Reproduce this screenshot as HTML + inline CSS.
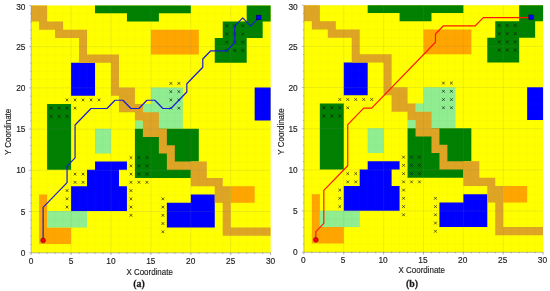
<!DOCTYPE html><html><head><meta charset="utf-8"><title>Path planning comparison</title>
<style>html,body{margin:0;padding:0;background:#fff}body{width:550px;height:291px;overflow:hidden}svg{display:block}.t{font-family:"Liberation Sans",sans-serif;font-size:9.0px;fill:#222;stroke:#222;stroke-width:0.15px}.c{font-family:"Liberation Serif",serif;font-weight:bold;font-size:10.4px;fill:#1a1a1a;stroke:#1a1a1a;stroke-width:0.25px}</style></head><body>
<svg width="550" height="291" viewBox="0 0 550 291">
<rect width="550" height="291" fill="#fff"/>
<g>
<rect x="31.15" y="5.45" width="239.5" height="247.3" fill="#ffff00"/>
<path d="M150.9 87.43H182.83V128.65H150.9ZM142.92 103.92H150.9V112.16H142.92ZM134.93 120.41H142.92V128.65H134.93ZM95.02 128.65H110.98V153.38H95.02Z" fill="#90ee90"/>
<path d="M150.9 29.73H198.8V54.46H150.9ZM39.13 194.6H47.12V244.06H39.13ZM39.13 227.57H71.07V244.06H39.13ZM230.73 186.35H254.68V202.84H230.73Z" fill="#ffa500"/>
<path d="M47.12 211.08H87.03V227.57H47.12Z" fill="#90ee90"/>
<path d="M95.02 5.45H190.82V13.24H95.02ZM126.95 13.24H158.88V21.49H126.95ZM246.7 5.45H270.65V21.49H246.7ZM246.7 21.49H262.67V37.97H246.7ZM222.75 21.49H246.7V62.7H222.75ZM214.77 37.97H222.75V62.7H214.77ZM47.12 103.92H71.07V169.87H47.12ZM134.93 128.65H198.8V161.62H134.93ZM134.93 161.62H190.82V178.11H134.93Z" fill="#008000"/>
<path d="M71.07 62.7H95.02V95.68H71.07ZM254.68 87.43H270.65V120.41H254.68ZM95.02 161.62H126.95V169.87H95.02ZM87.03 169.87H118.97V186.35H87.03ZM71.07 186.35H126.95V211.08H71.07ZM190.82 194.6H214.77V227.57H190.82ZM166.87 202.84H190.82V227.57H166.87Z" fill="#0000ff"/>
<path d="M31.15 5.45H47.12V13.24H31.15ZM31.15 13.24H47.12V21.49H31.15ZM39.13 21.49H63.08V29.73H39.13ZM55.1 29.73H87.03V37.97H55.1ZM79.05 37.97H87.03V46.22H79.05ZM79.05 46.22H87.03V54.46H79.05ZM79.05 54.46H118.97V62.7H79.05ZM110.98 62.7H118.97V70.95H110.98ZM110.98 70.95H118.97V79.19H110.98ZM110.98 79.19H118.97V87.43H110.98ZM110.98 87.43H134.93V95.68H110.98ZM118.97 95.68H134.93V103.92H118.97ZM118.97 103.92H142.92V112.16H118.97ZM134.93 112.16H158.88V120.41H134.93ZM142.92 120.41H158.88V128.65H142.92ZM142.92 128.65H166.87V136.89H142.92ZM158.88 136.89H166.87V145.14H158.88ZM158.88 145.14H174.85V153.38H158.88ZM166.87 153.38H174.85V161.62H166.87ZM166.87 161.62H206.78V169.87H166.87ZM190.82 169.87H206.78V178.11H190.82ZM190.82 178.11H222.75V186.35H190.82ZM214.77 186.35H230.73V194.6H214.77ZM214.77 194.6H230.73V202.84H214.77ZM222.75 202.84H230.73V211.08H222.75ZM222.75 211.08H230.73V219.33H222.75ZM222.75 219.33H230.73V227.57H222.75ZM222.75 227.57H270.65V235.81H222.75Z" fill="#dea524"/>
<path d="M39.13 5.45V252.75M31.15 244.51H270.65" stroke="rgba(130,130,130,0.06)" stroke-width="0.6" fill="none"/>
<path d="M47.12 5.45V252.75M31.15 236.26H270.65" stroke="rgba(130,130,130,0.06)" stroke-width="0.6" fill="none"/>
<path d="M55.1 5.45V252.75M31.15 228.02H270.65" stroke="rgba(130,130,130,0.06)" stroke-width="0.6" fill="none"/>
<path d="M63.08 5.45V252.75M31.15 219.78H270.65" stroke="rgba(130,130,130,0.06)" stroke-width="0.6" fill="none"/>
<path d="M71.07 5.45V252.75M31.15 211.53H270.65" stroke="rgba(130,130,130,0.26)" stroke-width="0.6" fill="none"/>
<path d="M79.05 5.45V252.75M31.15 203.29H270.65" stroke="rgba(130,130,130,0.06)" stroke-width="0.6" fill="none"/>
<path d="M87.03 5.45V252.75M31.15 195.05H270.65" stroke="rgba(130,130,130,0.06)" stroke-width="0.6" fill="none"/>
<path d="M95.02 5.45V252.75M31.15 186.8H270.65" stroke="rgba(130,130,130,0.06)" stroke-width="0.6" fill="none"/>
<path d="M103 5.45V252.75M31.15 178.56H270.65" stroke="rgba(130,130,130,0.06)" stroke-width="0.6" fill="none"/>
<path d="M110.98 5.45V252.75M31.15 170.32H270.65" stroke="rgba(130,130,130,0.26)" stroke-width="0.6" fill="none"/>
<path d="M118.97 5.45V252.75M31.15 162.07H270.65" stroke="rgba(130,130,130,0.06)" stroke-width="0.6" fill="none"/>
<path d="M126.95 5.45V252.75M31.15 153.83H270.65" stroke="rgba(130,130,130,0.06)" stroke-width="0.6" fill="none"/>
<path d="M134.93 5.45V252.75M31.15 145.59H270.65" stroke="rgba(130,130,130,0.06)" stroke-width="0.6" fill="none"/>
<path d="M142.92 5.45V252.75M31.15 137.34H270.65" stroke="rgba(130,130,130,0.06)" stroke-width="0.6" fill="none"/>
<path d="M150.9 5.45V252.75M31.15 129.1H270.65" stroke="rgba(130,130,130,0.26)" stroke-width="0.6" fill="none"/>
<path d="M158.88 5.45V252.75M31.15 120.86H270.65" stroke="rgba(130,130,130,0.06)" stroke-width="0.6" fill="none"/>
<path d="M166.87 5.45V252.75M31.15 112.61H270.65" stroke="rgba(130,130,130,0.06)" stroke-width="0.6" fill="none"/>
<path d="M174.85 5.45V252.75M31.15 104.37H270.65" stroke="rgba(130,130,130,0.06)" stroke-width="0.6" fill="none"/>
<path d="M182.83 5.45V252.75M31.15 96.13H270.65" stroke="rgba(130,130,130,0.06)" stroke-width="0.6" fill="none"/>
<path d="M190.82 5.45V252.75M31.15 87.88H270.65" stroke="rgba(130,130,130,0.26)" stroke-width="0.6" fill="none"/>
<path d="M198.8 5.45V252.75M31.15 79.64H270.65" stroke="rgba(130,130,130,0.06)" stroke-width="0.6" fill="none"/>
<path d="M206.78 5.45V252.75M31.15 71.4H270.65" stroke="rgba(130,130,130,0.06)" stroke-width="0.6" fill="none"/>
<path d="M214.77 5.45V252.75M31.15 63.15H270.65" stroke="rgba(130,130,130,0.06)" stroke-width="0.6" fill="none"/>
<path d="M222.75 5.45V252.75M31.15 54.91H270.65" stroke="rgba(130,130,130,0.06)" stroke-width="0.6" fill="none"/>
<path d="M230.73 5.45V252.75M31.15 46.67H270.65" stroke="rgba(130,130,130,0.26)" stroke-width="0.6" fill="none"/>
<path d="M238.72 5.45V252.75M31.15 38.42H270.65" stroke="rgba(130,130,130,0.06)" stroke-width="0.6" fill="none"/>
<path d="M246.7 5.45V252.75M31.15 30.18H270.65" stroke="rgba(130,130,130,0.06)" stroke-width="0.6" fill="none"/>
<path d="M254.68 5.45V252.75M31.15 21.94H270.65" stroke="rgba(130,130,130,0.06)" stroke-width="0.6" fill="none"/>
<path d="M262.67 5.45V252.75M31.15 13.69H270.65" stroke="rgba(130,130,130,0.06)" stroke-width="0.6" fill="none"/>
<path d="M28.95 252.75h2.2M30.05 244.51h1.1M30.05 236.26h1.1M30.05 228.02h1.1M30.05 219.78h1.1M28.95 211.53h2.2M30.05 203.29h1.1M30.05 195.05h1.1M30.05 186.8h1.1M30.05 178.56h1.1M28.95 170.32h2.2M30.05 162.07h1.1M30.05 153.83h1.1M30.05 145.59h1.1M30.05 137.34h1.1M28.95 129.1h2.2M30.05 120.86h1.1M30.05 112.61h1.1M30.05 104.37h1.1M30.05 96.13h1.1M28.95 87.88h2.2M30.05 79.64h1.1M30.05 71.4h1.1M30.05 63.15h1.1M30.05 54.91h1.1M28.95 46.67h2.2M30.05 38.42h1.1M30.05 30.18h1.1M30.05 21.94h1.1M30.05 13.69h1.1M28.95 5.45h2.2" stroke="#9aa0ba" stroke-width="0.6" fill="none"/>
<path d="M31.15 252.75v2.2M39.13 252.75v1.1M47.12 252.75v1.1M55.1 252.75v1.1M63.08 252.75v1.1M71.07 252.75v2.2M79.05 252.75v1.1M87.03 252.75v1.1M95.02 252.75v1.1M103 252.75v1.1M110.98 252.75v2.2M118.97 252.75v1.1M126.95 252.75v1.1M134.93 252.75v1.1M142.92 252.75v1.1M150.9 252.75v2.2M158.88 252.75v1.1M166.87 252.75v1.1M174.85 252.75v1.1M182.83 252.75v1.1M190.82 252.75v2.2M198.8 252.75v1.1M206.78 252.75v1.1M214.77 252.75v1.1M222.75 252.75v1.1M230.73 252.75v2.2M238.72 252.75v1.1M246.7 252.75v1.1M254.68 252.75v1.1M262.67 252.75v1.1M270.65 252.75v2.2" stroke="#6e6e78" stroke-width="0.6" fill="none"/>
<path d="M31.15 5.45V252.85H270.65" stroke="#77776a" stroke-width="0.5" fill="none"/>
<path d="M225.36 49.06l2.76 2.76M225.36 51.82l2.76 -2.76M225.36 40.81l2.76 2.76M225.36 43.57l2.76 -2.76M225.36 32.57l2.76 2.76M225.36 35.33l2.76 -2.76M225.36 24.33l2.76 2.76M225.36 27.09l2.76 -2.76M233.34 49.06l2.76 2.76M233.34 51.82l2.76 -2.76M233.34 40.81l2.76 2.76M233.34 43.57l2.76 -2.76M233.34 32.57l2.76 2.76M233.34 35.33l2.76 -2.76M233.34 24.33l2.76 2.76M233.34 27.09l2.76 -2.76M241.33 49.06l2.76 2.76M241.33 51.82l2.76 -2.76M241.33 40.81l2.76 2.76M241.33 43.57l2.76 -2.76M241.33 32.57l2.76 2.76M241.33 35.33l2.76 -2.76M241.33 24.33l2.76 2.76M241.33 27.09l2.76 -2.76M65.69 98.52l2.76 2.76M65.69 101.28l2.76 -2.76M73.68 98.52l2.76 2.76M73.68 101.28l2.76 -2.76M81.66 98.52l2.76 2.76M81.66 101.28l2.76 -2.76M89.64 98.52l2.76 2.76M89.64 101.28l2.76 -2.76M97.63 98.52l2.76 2.76M97.63 101.28l2.76 -2.76M49.73 106.76l2.76 2.76M49.73 109.52l2.76 -2.76M57.71 106.76l2.76 2.76M57.71 109.52l2.76 -2.76M65.69 106.76l2.76 2.76M65.69 109.52l2.76 -2.76M73.68 106.76l2.76 2.76M73.68 109.52l2.76 -2.76M49.73 115l2.76 2.76M49.73 117.76l2.76 -2.76M57.71 115l2.76 2.76M57.71 117.76l2.76 -2.76M65.69 115l2.76 2.76M65.69 117.76l2.76 -2.76M169.48 106.76l2.76 2.76M169.48 109.52l2.76 -2.76M169.48 98.52l2.76 2.76M169.48 101.28l2.76 -2.76M169.48 90.28l2.76 2.76M169.48 93.03l2.76 -2.76M169.48 82.03l2.76 2.76M169.48 84.79l2.76 -2.76M177.46 106.76l2.76 2.76M177.46 109.52l2.76 -2.76M177.46 98.52l2.76 2.76M177.46 101.28l2.76 -2.76M177.46 90.28l2.76 2.76M177.46 93.03l2.76 -2.76M177.46 82.03l2.76 2.76M177.46 84.79l2.76 -2.76M129.56 213.93l2.76 2.76M129.56 216.69l2.76 -2.76M129.56 205.68l2.76 2.76M129.56 208.44l2.76 -2.76M129.56 197.44l2.76 2.76M129.56 200.2l2.76 -2.76M129.56 189.2l2.76 2.76M129.56 191.96l2.76 -2.76M129.56 180.95l2.76 2.76M129.56 183.71l2.76 -2.76M129.56 172.71l2.76 2.76M129.56 175.47l2.76 -2.76M129.56 164.47l2.76 2.76M129.56 167.22l2.76 -2.76M129.56 156.22l2.76 2.76M129.56 158.98l2.76 -2.76M137.54 180.95l2.76 2.76M137.54 183.71l2.76 -2.76M137.54 172.71l2.76 2.76M137.54 175.47l2.76 -2.76M137.54 164.47l2.76 2.76M137.54 167.22l2.76 -2.76M137.54 156.22l2.76 2.76M137.54 158.98l2.76 -2.76M145.53 180.95l2.76 2.76M145.53 183.71l2.76 -2.76M145.53 172.71l2.76 2.76M145.53 175.47l2.76 -2.76M145.53 164.47l2.76 2.76M145.53 167.22l2.76 -2.76M145.53 156.22l2.76 2.76M145.53 158.98l2.76 -2.76M73.68 180.95l2.76 2.76M73.68 183.71l2.76 -2.76M73.68 172.71l2.76 2.76M73.68 175.47l2.76 -2.76M81.66 180.95l2.76 2.76M81.66 183.71l2.76 -2.76M81.66 172.71l2.76 2.76M81.66 175.47l2.76 -2.76M65.69 205.68l2.76 2.76M65.69 208.44l2.76 -2.76M65.69 197.44l2.76 2.76M65.69 200.2l2.76 -2.76M65.69 189.2l2.76 2.76M65.69 191.96l2.76 -2.76M161.5 230.41l2.76 2.76M161.5 233.17l2.76 -2.76M161.5 222.17l2.76 2.76M161.5 224.93l2.76 -2.76M161.5 213.93l2.76 2.76M161.5 216.69l2.76 -2.76M161.5 205.68l2.76 2.76M161.5 208.44l2.76 -2.76M161.5 197.44l2.76 2.76M161.5 200.2l2.76 -2.76" stroke="#111" stroke-width="0.66" fill="none"/>
<polyline points="43.12,240.38 43.12,207.41 67.07,182.68 67.07,166.19 75.06,157.95 75.06,124.98 91.02,108.49 106.99,108.49 114.97,100.25 122.96,100.25 130.94,108.49 138.92,108.49 146.91,100.25 154.89,100.25 162.88,108.49 170.86,108.49 186.82,92 186.82,83.76 202.79,67.27 202.79,59.03 210.77,50.79 226.74,50.79 234.72,42.54 234.72,26.06 242.71,17.81 250.69,26.06 258.67,17.81" fill="none" stroke="#1c1cd0" stroke-width="1.2" stroke-linejoin="round"/>
<circle cx="43.12" cy="240.38" r="2.4" fill="#ff0000" stroke="#5a1010" stroke-width="0.6"/>
<rect x="256.37" y="15.21" width="4.6" height="4.6" fill="#0000ff" stroke="#00004a" stroke-width="0.5"/>
<text class="t" transform="translate(25.45 255.6) scale(0.93 1)" text-anchor="end">0</text>
<text class="t" transform="translate(31.05 263.95) scale(0.93 1)" text-anchor="middle">0</text>
<text class="t" transform="translate(25.45 214.68) scale(0.93 1)" text-anchor="end">5</text>
<text class="t" transform="translate(70.97 263.95) scale(0.93 1)" text-anchor="middle">5</text>
<text class="t" transform="translate(25.45 173.47) scale(0.93 1)" text-anchor="end">10</text>
<text class="t" transform="translate(110.88 263.95) scale(0.93 1)" text-anchor="middle">10</text>
<text class="t" transform="translate(25.45 132.25) scale(0.93 1)" text-anchor="end">15</text>
<text class="t" transform="translate(150.8 263.95) scale(0.93 1)" text-anchor="middle">15</text>
<text class="t" transform="translate(25.45 91.03) scale(0.93 1)" text-anchor="end">20</text>
<text class="t" transform="translate(190.72 263.95) scale(0.93 1)" text-anchor="middle">20</text>
<text class="t" transform="translate(25.45 49.82) scale(0.93 1)" text-anchor="end">25</text>
<text class="t" transform="translate(230.63 263.95) scale(0.93 1)" text-anchor="middle">25</text>
<text class="t" transform="translate(25.45 10.3) scale(0.93 1)" text-anchor="end">30</text>
<text class="t" transform="translate(270.55 263.95) scale(0.93 1)" text-anchor="middle">30</text>
<text class="t" transform="translate(149.6 274.55) scale(0.885 1)" text-anchor="middle">X Coordinate</text>
<text class="t" transform="translate(11.25 131.9) rotate(-90) scale(0.885 1)" text-anchor="middle">Y Coordinate</text>
<text class="c" transform="translate(139 287) scale(0.95 1)" text-anchor="middle">(a)</text>
</g>
<g>
<rect x="303.9" y="5.2" width="239.2" height="247" fill="#ffff00"/>
<path d="M423.5 87.13H455.39V128.3H423.5ZM415.53 103.6H423.5V111.83H415.53ZM407.55 120.07H415.53V128.3H407.55ZM367.69 128.3H383.63V153H367.69Z" fill="#90ee90"/>
<path d="M423.5 29.5H471.34V54.2H423.5ZM311.87 194.17H319.85V243.57H311.87ZM311.87 227.1H343.77V243.57H311.87ZM503.23 185.93H527.15V202.4H503.23Z" fill="#ffa500"/>
<path d="M319.85 210.63H359.71V227.1H319.85Z" fill="#90ee90"/>
<path d="M367.69 5.2H463.37V13.03H367.69ZM399.58 13.03H431.47V21.27H399.58ZM519.18 5.2H543.1V21.27H519.18ZM519.18 21.27H535.13V37.73H519.18ZM495.26 21.27H519.18V62.43H495.26ZM487.29 37.73H495.26V62.43H487.29ZM319.85 103.6H343.77V169.47H319.85ZM407.55 128.3H471.34V161.23H407.55ZM407.55 161.23H463.37V177.7H407.55Z" fill="#008000"/>
<path d="M343.77 62.43H367.69V95.37H343.77ZM527.15 87.13H543.1V120.07H527.15ZM367.69 161.23H399.58V169.47H367.69ZM359.71 169.47H391.61V185.93H359.71ZM343.77 185.93H399.58V210.63H343.77ZM463.37 194.17H487.29V227.1H463.37ZM439.45 202.4H463.37V227.1H439.45Z" fill="#0000ff"/>
<path d="M303.9 5.2H319.85V13.03H303.9ZM303.9 13.03H319.85V21.27H303.9ZM311.87 21.27H335.79V29.5H311.87ZM327.82 29.5H359.71V37.73H327.82ZM351.74 37.73H359.71V45.97H351.74ZM351.74 45.97H359.71V54.2H351.74ZM351.74 54.2H391.61V62.43H351.74ZM383.63 62.43H391.61V70.67H383.63ZM383.63 70.67H391.61V78.9H383.63ZM383.63 78.9H391.61V87.13H383.63ZM383.63 87.13H407.55V95.37H383.63ZM391.61 95.37H407.55V103.6H391.61ZM391.61 103.6H415.53V111.83H391.61ZM407.55 111.83H431.47V120.07H407.55ZM415.53 120.07H431.47V128.3H415.53ZM415.53 128.3H439.45V136.53H415.53ZM431.47 136.53H439.45V144.77H431.47ZM431.47 144.77H447.42V153H431.47ZM439.45 153H447.42V161.23H439.45ZM439.45 161.23H479.31V169.47H439.45ZM463.37 169.47H479.31V177.7H463.37ZM463.37 177.7H495.26V185.93H463.37ZM487.29 185.93H503.23V194.17H487.29ZM487.29 194.17H503.23V202.4H487.29ZM495.26 202.4H503.23V210.63H495.26ZM495.26 210.63H503.23V218.87H495.26ZM495.26 218.87H503.23V227.1H495.26ZM495.26 227.1H543.1V235.33H495.26Z" fill="#dea524"/>
<path d="M311.87 5.2V252.2M303.9 243.97H543.1" stroke="rgba(130,130,130,0.06)" stroke-width="0.6" fill="none"/>
<path d="M319.85 5.2V252.2M303.9 235.73H543.1" stroke="rgba(130,130,130,0.06)" stroke-width="0.6" fill="none"/>
<path d="M327.82 5.2V252.2M303.9 227.5H543.1" stroke="rgba(130,130,130,0.06)" stroke-width="0.6" fill="none"/>
<path d="M335.79 5.2V252.2M303.9 219.27H543.1" stroke="rgba(130,130,130,0.06)" stroke-width="0.6" fill="none"/>
<path d="M343.77 5.2V252.2M303.9 211.03H543.1" stroke="rgba(130,130,130,0.26)" stroke-width="0.6" fill="none"/>
<path d="M351.74 5.2V252.2M303.9 202.8H543.1" stroke="rgba(130,130,130,0.06)" stroke-width="0.6" fill="none"/>
<path d="M359.71 5.2V252.2M303.9 194.57H543.1" stroke="rgba(130,130,130,0.06)" stroke-width="0.6" fill="none"/>
<path d="M367.69 5.2V252.2M303.9 186.33H543.1" stroke="rgba(130,130,130,0.06)" stroke-width="0.6" fill="none"/>
<path d="M375.66 5.2V252.2M303.9 178.1H543.1" stroke="rgba(130,130,130,0.06)" stroke-width="0.6" fill="none"/>
<path d="M383.63 5.2V252.2M303.9 169.87H543.1" stroke="rgba(130,130,130,0.26)" stroke-width="0.6" fill="none"/>
<path d="M391.61 5.2V252.2M303.9 161.63H543.1" stroke="rgba(130,130,130,0.06)" stroke-width="0.6" fill="none"/>
<path d="M399.58 5.2V252.2M303.9 153.4H543.1" stroke="rgba(130,130,130,0.06)" stroke-width="0.6" fill="none"/>
<path d="M407.55 5.2V252.2M303.9 145.17H543.1" stroke="rgba(130,130,130,0.06)" stroke-width="0.6" fill="none"/>
<path d="M415.53 5.2V252.2M303.9 136.93H543.1" stroke="rgba(130,130,130,0.06)" stroke-width="0.6" fill="none"/>
<path d="M423.5 5.2V252.2M303.9 128.7H543.1" stroke="rgba(130,130,130,0.26)" stroke-width="0.6" fill="none"/>
<path d="M431.47 5.2V252.2M303.9 120.47H543.1" stroke="rgba(130,130,130,0.06)" stroke-width="0.6" fill="none"/>
<path d="M439.45 5.2V252.2M303.9 112.23H543.1" stroke="rgba(130,130,130,0.06)" stroke-width="0.6" fill="none"/>
<path d="M447.42 5.2V252.2M303.9 104H543.1" stroke="rgba(130,130,130,0.06)" stroke-width="0.6" fill="none"/>
<path d="M455.39 5.2V252.2M303.9 95.77H543.1" stroke="rgba(130,130,130,0.06)" stroke-width="0.6" fill="none"/>
<path d="M463.37 5.2V252.2M303.9 87.53H543.1" stroke="rgba(130,130,130,0.26)" stroke-width="0.6" fill="none"/>
<path d="M471.34 5.2V252.2M303.9 79.3H543.1" stroke="rgba(130,130,130,0.06)" stroke-width="0.6" fill="none"/>
<path d="M479.31 5.2V252.2M303.9 71.07H543.1" stroke="rgba(130,130,130,0.06)" stroke-width="0.6" fill="none"/>
<path d="M487.29 5.2V252.2M303.9 62.83H543.1" stroke="rgba(130,130,130,0.06)" stroke-width="0.6" fill="none"/>
<path d="M495.26 5.2V252.2M303.9 54.6H543.1" stroke="rgba(130,130,130,0.06)" stroke-width="0.6" fill="none"/>
<path d="M503.23 5.2V252.2M303.9 46.37H543.1" stroke="rgba(130,130,130,0.26)" stroke-width="0.6" fill="none"/>
<path d="M511.21 5.2V252.2M303.9 38.13H543.1" stroke="rgba(130,130,130,0.06)" stroke-width="0.6" fill="none"/>
<path d="M519.18 5.2V252.2M303.9 29.9H543.1" stroke="rgba(130,130,130,0.06)" stroke-width="0.6" fill="none"/>
<path d="M527.15 5.2V252.2M303.9 21.67H543.1" stroke="rgba(130,130,130,0.06)" stroke-width="0.6" fill="none"/>
<path d="M535.13 5.2V252.2M303.9 13.43H543.1" stroke="rgba(130,130,130,0.06)" stroke-width="0.6" fill="none"/>
<path d="M301.7 252.2h2.2M302.8 243.97h1.1M302.8 235.73h1.1M302.8 227.5h1.1M302.8 219.27h1.1M301.7 211.03h2.2M302.8 202.8h1.1M302.8 194.57h1.1M302.8 186.33h1.1M302.8 178.1h1.1M301.7 169.87h2.2M302.8 161.63h1.1M302.8 153.4h1.1M302.8 145.17h1.1M302.8 136.93h1.1M301.7 128.7h2.2M302.8 120.47h1.1M302.8 112.23h1.1M302.8 104h1.1M302.8 95.77h1.1M301.7 87.53h2.2M302.8 79.3h1.1M302.8 71.07h1.1M302.8 62.83h1.1M302.8 54.6h1.1M301.7 46.37h2.2M302.8 38.13h1.1M302.8 29.9h1.1M302.8 21.67h1.1M302.8 13.43h1.1M301.7 5.2h2.2" stroke="#9aa0ba" stroke-width="0.6" fill="none"/>
<path d="M303.9 252.2v2.2M311.87 252.2v1.1M319.85 252.2v1.1M327.82 252.2v1.1M335.79 252.2v1.1M343.77 252.2v2.2M351.74 252.2v1.1M359.71 252.2v1.1M367.69 252.2v1.1M375.66 252.2v1.1M383.63 252.2v2.2M391.61 252.2v1.1M399.58 252.2v1.1M407.55 252.2v1.1M415.53 252.2v1.1M423.5 252.2v2.2M431.47 252.2v1.1M439.45 252.2v1.1M447.42 252.2v1.1M455.39 252.2v1.1M463.37 252.2v2.2M471.34 252.2v1.1M479.31 252.2v1.1M487.29 252.2v1.1M495.26 252.2v1.1M503.23 252.2v2.2M511.21 252.2v1.1M519.18 252.2v1.1M527.15 252.2v1.1M535.13 252.2v1.1M543.1 252.2v2.2" stroke="#6e6e78" stroke-width="0.6" fill="none"/>
<path d="M303.9 5.2V252.3H543.1" stroke="#77776a" stroke-width="0.5" fill="none"/>
<path d="M497.87 48.75l2.76 2.76M497.87 51.51l2.76 -2.76M497.87 40.52l2.76 2.76M497.87 43.28l2.76 -2.76M497.87 32.29l2.76 2.76M497.87 35.05l2.76 -2.76M497.87 24.05l2.76 2.76M497.87 26.81l2.76 -2.76M505.84 48.75l2.76 2.76M505.84 51.51l2.76 -2.76M505.84 40.52l2.76 2.76M505.84 43.28l2.76 -2.76M505.84 32.29l2.76 2.76M505.84 35.05l2.76 -2.76M505.84 24.05l2.76 2.76M505.84 26.81l2.76 -2.76M513.81 48.75l2.76 2.76M513.81 51.51l2.76 -2.76M513.81 40.52l2.76 2.76M513.81 43.28l2.76 -2.76M513.81 32.29l2.76 2.76M513.81 35.05l2.76 -2.76M513.81 24.05l2.76 2.76M513.81 26.81l2.76 -2.76M338.4 98.15l2.76 2.76M338.4 100.91l2.76 -2.76M346.37 98.15l2.76 2.76M346.37 100.91l2.76 -2.76M354.35 98.15l2.76 2.76M354.35 100.91l2.76 -2.76M362.32 98.15l2.76 2.76M362.32 100.91l2.76 -2.76M370.29 98.15l2.76 2.76M370.29 100.91l2.76 -2.76M322.45 106.39l2.76 2.76M322.45 109.15l2.76 -2.76M330.43 106.39l2.76 2.76M330.43 109.15l2.76 -2.76M338.4 106.39l2.76 2.76M338.4 109.15l2.76 -2.76M346.37 106.39l2.76 2.76M346.37 109.15l2.76 -2.76M322.45 114.62l2.76 2.76M322.45 117.38l2.76 -2.76M330.43 114.62l2.76 2.76M330.43 117.38l2.76 -2.76M338.4 114.62l2.76 2.76M338.4 117.38l2.76 -2.76M442.05 106.39l2.76 2.76M442.05 109.15l2.76 -2.76M442.05 98.15l2.76 2.76M442.05 100.91l2.76 -2.76M442.05 89.92l2.76 2.76M442.05 92.68l2.76 -2.76M442.05 81.69l2.76 2.76M442.05 84.45l2.76 -2.76M450.03 106.39l2.76 2.76M450.03 109.15l2.76 -2.76M450.03 98.15l2.76 2.76M450.03 100.91l2.76 -2.76M450.03 89.92l2.76 2.76M450.03 92.68l2.76 -2.76M450.03 81.69l2.76 2.76M450.03 84.45l2.76 -2.76M402.19 213.42l2.76 2.76M402.19 216.18l2.76 -2.76M402.19 205.19l2.76 2.76M402.19 207.95l2.76 -2.76M402.19 196.95l2.76 2.76M402.19 199.71l2.76 -2.76M402.19 188.72l2.76 2.76M402.19 191.48l2.76 -2.76M402.19 180.49l2.76 2.76M402.19 183.25l2.76 -2.76M402.19 172.25l2.76 2.76M402.19 175.01l2.76 -2.76M402.19 164.02l2.76 2.76M402.19 166.78l2.76 -2.76M402.19 155.79l2.76 2.76M402.19 158.55l2.76 -2.76M410.16 180.49l2.76 2.76M410.16 183.25l2.76 -2.76M410.16 172.25l2.76 2.76M410.16 175.01l2.76 -2.76M410.16 164.02l2.76 2.76M410.16 166.78l2.76 -2.76M410.16 155.79l2.76 2.76M410.16 158.55l2.76 -2.76M418.13 180.49l2.76 2.76M418.13 183.25l2.76 -2.76M418.13 172.25l2.76 2.76M418.13 175.01l2.76 -2.76M418.13 164.02l2.76 2.76M418.13 166.78l2.76 -2.76M418.13 155.79l2.76 2.76M418.13 158.55l2.76 -2.76M346.37 180.49l2.76 2.76M346.37 183.25l2.76 -2.76M346.37 172.25l2.76 2.76M346.37 175.01l2.76 -2.76M354.35 180.49l2.76 2.76M354.35 183.25l2.76 -2.76M354.35 172.25l2.76 2.76M354.35 175.01l2.76 -2.76M338.4 205.19l2.76 2.76M338.4 207.95l2.76 -2.76M338.4 196.95l2.76 2.76M338.4 199.71l2.76 -2.76M338.4 188.72l2.76 2.76M338.4 191.48l2.76 -2.76M434.08 229.89l2.76 2.76M434.08 232.65l2.76 -2.76M434.08 221.65l2.76 2.76M434.08 224.41l2.76 -2.76M434.08 213.42l2.76 2.76M434.08 216.18l2.76 -2.76M434.08 205.19l2.76 2.76M434.08 207.95l2.76 -2.76M434.08 196.95l2.76 2.76M434.08 199.71l2.76 -2.76" stroke="#111" stroke-width="0.66" fill="none"/>
<polyline points="315.86,239.85 315.86,231.62 323.83,223.38 323.83,190.45 347.75,165.75 347.75,124.58 363.7,108.12 371.67,108.12 435.46,42.25 435.46,34.02 443.43,25.78 475.33,25.78 483.3,17.55 531.14,17.55" fill="none" stroke="#ff1a00" stroke-width="1.2" stroke-linejoin="round"/>
<circle cx="315.86" cy="239.85" r="2.4" fill="#ff0000" stroke="#5a1010" stroke-width="0.6"/>
<rect x="528.84" y="14.95" width="4.6" height="4.6" fill="#0000ff" stroke="#00004a" stroke-width="0.5"/>
<text class="t" transform="translate(297.7 255.05) scale(0.93 1)" text-anchor="end">0</text>
<text class="t" transform="translate(303.3 262.65) scale(0.93 1)" text-anchor="middle">0</text>
<text class="t" transform="translate(297.7 214.18) scale(0.93 1)" text-anchor="end">5</text>
<text class="t" transform="translate(343.17 262.65) scale(0.93 1)" text-anchor="middle">5</text>
<text class="t" transform="translate(297.7 173.02) scale(0.93 1)" text-anchor="end">10</text>
<text class="t" transform="translate(383.03 262.65) scale(0.93 1)" text-anchor="middle">10</text>
<text class="t" transform="translate(297.7 131.85) scale(0.93 1)" text-anchor="end">15</text>
<text class="t" transform="translate(422.9 262.65) scale(0.93 1)" text-anchor="middle">15</text>
<text class="t" transform="translate(297.7 90.68) scale(0.93 1)" text-anchor="end">20</text>
<text class="t" transform="translate(462.77 262.65) scale(0.93 1)" text-anchor="middle">20</text>
<text class="t" transform="translate(297.7 49.52) scale(0.93 1)" text-anchor="end">25</text>
<text class="t" transform="translate(502.63 262.65) scale(0.93 1)" text-anchor="middle">25</text>
<text class="t" transform="translate(297.7 10.45) scale(0.93 1)" text-anchor="end">30</text>
<text class="t" transform="translate(542.5 262.65) scale(0.93 1)" text-anchor="middle">30</text>
<text class="t" transform="translate(421.8 273.25) scale(0.885 1)" text-anchor="middle">X Coordinate</text>
<text class="t" transform="translate(284 131.5) rotate(-90) scale(0.885 1)" text-anchor="middle">Y Coordinate</text>
<text class="c" transform="translate(412 287) scale(0.95 1)" text-anchor="middle">(b)</text>
</g>
</svg></body></html>
